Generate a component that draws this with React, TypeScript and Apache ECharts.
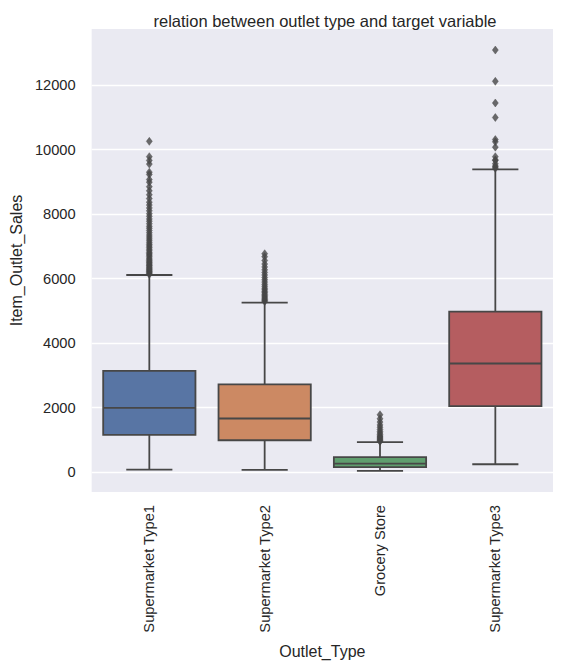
import React, { useEffect, useRef } from "react";
import * as echarts from "echarts";

const categories = ["Supermarket Type1", "Supermarket Type2", "Grocery Store", "Supermarket Type3"];
// [min whisker, Q1, median, Q3, max whisker]
const boxStats = [
  [73, 1151, 1991, 3135, 6110],
  [69, 985, 1660, 2715, 5255],
  [34, 154, 257, 461, 925],
  [241, 2045, 3365, 4975, 9389],
];
const outliersType1 = [
  6130, 6160, 6190, 6215, 6240, 6270, 6300, 6330, 6360, 6395, 6420, 6455, 6490, 6520, 6560, 6600,
  6640, 6690, 6730, 6770, 6810, 6860, 6910, 6960, 7010, 7060, 7110, 7170, 7230, 7290, 7350, 7420,
  7490, 7560, 7620, 7700, 7780, 7850, 7930, 8010, 8100, 8190, 8280, 8370, 8480, 8600, 8720, 8850,
  8990, 9070, 9230, 9300, 9550, 9665, 9780, 10256,
];
const outliersType2 = [
  5290, 5320, 5350, 5390, 5430, 5470, 5510, 5560, 5600, 5650, 5700, 5760, 5820, 5890, 5960, 6030,
  6110, 6190, 6270, 6360, 6450, 6560, 6680, 6770,
];
const outliersGrocery = [950, 975, 1000, 1030, 1060, 1090, 1120, 1160, 1210, 1260, 1320, 1390, 1460, 1550, 1650, 1775];
const outliersType3 = [9420, 9460, 9490, 9560, 9665, 9680, 9780, 10075, 10240, 10310, 10994, 11445, 12118, 13087];
const yTicks = [0, 2000, 4000, 6000, 8000, 10000, 12000];

const boxColors = ["#5875A4", "#CC8963", "#5F9E6E", "#B55D60"];
const lineColor = "#474747";
const font = "Arial, 'Liberation Sans', sans-serif";
const textColor = "#262626";

export default function App() {
  const ref = useRef<HTMLDivElement>(null);
  useEffect(() => {
    if (!ref.current) return;
    const chart = echarts.init(ref.current, undefined, { renderer: "svg" });
    const outlierGroups = [outliersType1, outliersType2, outliersGrocery, outliersType3];
    const outlierData: number[][] = [];
    outlierGroups.forEach((g, i) => g.forEach((v) => outlierData.push([i, v])));
    const boxData = boxStats.map((s, i) => [i, ...s]);

    chart.setOption({
      animation: false,
      backgroundColor: "#ffffff",
      textStyle: { fontFamily: font },
      title: {
        text: "relation between outlet type and target variable",
        left: 320,
        textAlign: "center",
        top: 7,
        textStyle: { fontFamily: font, fontSize: 16.5, fontWeight: "normal", color: textColor },
      },
      grid: {
        left: 88,
        right: 8,
        top: 29,
        bottom: 177,
        show: true,
        backgroundColor: "#EAEAF2",
        borderWidth: 0,
      },
      xAxis: {
        type: "category",
        data: categories,
        boundaryGap: true,
        axisLine: { show: false },
        axisTick: { show: false },
        splitLine: { show: false },
        axisLabel: { rotate: 90, margin: 13, fontSize: 14.67, color: textColor, fontFamily: font },
        name: "Outlet_Type",
        nameLocation: "middle",
        nameGap: 151,
        nameTextStyle: { fontSize: 16, color: textColor, fontFamily: font },
      },
      yAxis: {
        type: "value",
        min: -620,
        max: 13740,
        axisLine: { show: false },
        axisTick: { show: false, customValues: yTicks },
        axisLabel: {
          customValues: yTicks,
          formatter: (v: number) => String(v),
          margin: 16,
          fontSize: 14.67,
          color: textColor,
          fontFamily: font,
        },
        splitLine: { show: true, lineStyle: { color: "#ffffff", width: 1.3 } },
        name: "Item_Outlet_Sales",
        nameLocation: "middle",
        nameGap: 61,
        nameTextStyle: { fontSize: 16, color: textColor, fontFamily: font },
      },
      series: [
        {
          type: "custom",
          data: boxData,
          encode: { x: 0, y: [1, 2, 3, 4, 5] },
          renderItem: (params: any, api: any) => {
            const idx = api.value(0);
            const pMin = api.coord([idx, api.value(1)]);
            const pQ1 = api.coord([idx, api.value(2)]);
            const pMed = api.coord([idx, api.value(3)]);
            const pQ3 = api.coord([idx, api.value(4)]);
            const pMax = api.coord([idx, api.value(5)]);
            const bw = api.size([1, 0])[0] * 0.8;
            const cx = pMed[0];
            const cap = bw / 4;
            const ls = { stroke: lineColor, lineWidth: 1.8 };
            return {
              type: "group",
              children: [
                { type: "line", shape: { x1: cx, y1: pQ1[1], x2: cx, y2: pMin[1] }, style: ls },
                { type: "line", shape: { x1: cx, y1: pQ3[1], x2: cx, y2: pMax[1] }, style: ls },
                { type: "line", shape: { x1: cx - cap, y1: pMin[1], x2: cx + cap, y2: pMin[1] }, style: ls },
                { type: "line", shape: { x1: cx - cap, y1: pMax[1], x2: cx + cap, y2: pMax[1] }, style: ls },
                {
                  type: "rect",
                  shape: { x: cx - bw / 2, y: pQ3[1], width: bw, height: pQ1[1] - pQ3[1] },
                  style: { fill: boxColors[idx], stroke: lineColor, lineWidth: 1.8 },
                },
                { type: "line", shape: { x1: cx - bw / 2, y1: pMed[1], x2: cx + bw / 2, y2: pMed[1] }, style: ls },
              ],
            };
          },
          z: 2,
        },
        {
          type: "scatter",
          data: outlierData,
          symbol: "diamond",
          symbolSize: [6, 8],
          itemStyle: { color: lineColor, borderColor: lineColor, borderWidth: 0.5 },
          z: 3,
        },
      ],
    });
    return () => chart.dispose();
  }, []);
  return (
    <div
      ref={ref}
      style={{ position: "fixed", left: 0, top: 0, width: 561, height: 669, background: "#fff" }}
    />
  );
}
